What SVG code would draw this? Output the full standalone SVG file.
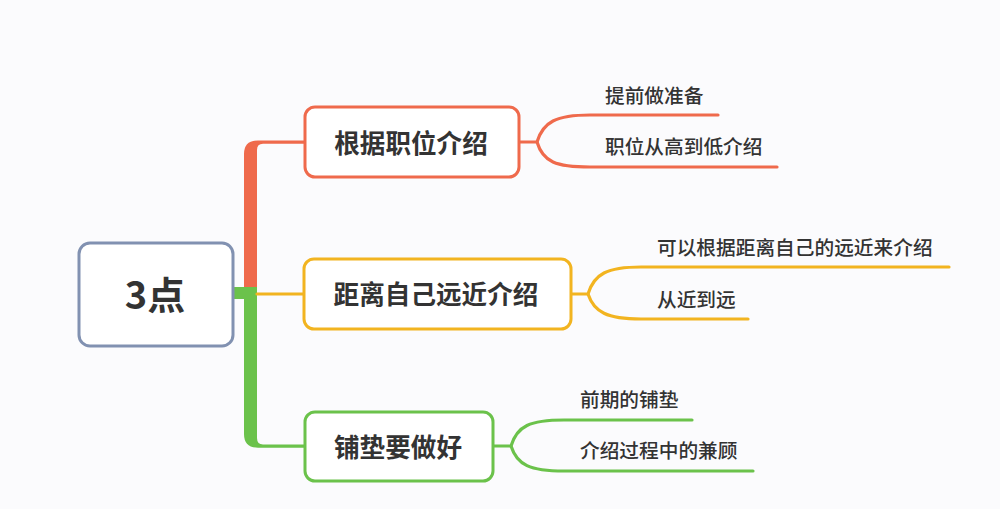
<svg xmlns="http://www.w3.org/2000/svg" width="1000" height="509" viewBox="0 0 1000 509">
<style>
.bg{fill:#fbfbfd}
.node{fill:#ffffff;stroke-width:3}
.t{font-family:"Noto Sans CJK SC","Noto Sans",sans-serif;fill:#333333;dominant-baseline:central}
.main{font-size:25.6px;font-weight:bold;text-anchor:middle}
.sub{font-size:19.7px;font-weight:500}
.br{fill:none;stroke-width:3.2;stroke-linecap:round}
.red{stroke:#ef6a4c}
.yel{stroke:#f2b420}
.grn{stroke:#6bc24b}
</style>
<rect class="bg" x="0" y="0" width="1000" height="509"/>
<g id="connectors">
<path d="M244,287 L244,154 Q244,140.5 258,140.5 L306,140.5 L306,143.7 L263,143.7 Q257,143.7 257,150 L257,287 Z" fill="#ef6a4c"/>
<path d="M232,287 L257,287 L257,438 Q257,444.5 263,444.5 L306,444.5 L306,447.7 L258,447.7 Q244,447.7 244,434 L244,299 L232,299 Z" fill="#6bc24b"/>
<line x1="257" y1="294" x2="306" y2="294" class="br yel" stroke-linecap="butt"/>
<path class="br red" d="M520,142 L537,142 C543,122 556,115 590,115 L718,115"/>
<path class="br red" d="M537,142 C543,162 556,167 590,167 L777,167"/>
<path class="br yel" d="M571,294 L588,294 C594,274 607,267 641,267 L949,267"/>
<path class="br yel" d="M588,294 C594,312 607,319 641,319 L748,319"/>
<path class="br grn" d="M493,446 L511,446 C517,426 530,420 564,420 L692,420"/>
<path class="br grn" d="M511,446 C517,465 530,471 564,471 L753,471"/>
</g>
<g id="root">
<rect class="node" x="79" y="243" width="154" height="103" rx="11" stroke="#8191b1"/>
<text class="t main" x="155" y="292" style="font-size:38px">3点</text>
</g>
<g id="n1">
<rect class="node red" x="305" y="107" width="214" height="70" rx="10"/>
<text class="t main" x="411" y="141">根据职位介绍</text>
</g>
<g id="n2">
<rect class="node yel" x="304" y="259" width="267" height="70" rx="10"/>
<text class="t main" x="436" y="292">距离自己远近介绍</text>
</g>
<g id="n3">
<rect class="node grn" x="305" y="412" width="188" height="69" rx="10"/>
<text class="t main" x="398" y="445">铺垫要做好</text>
</g>
<g id="n1a"><text class="t sub" x="605" y="94">提前做准备</text></g>
<g id="n1b"><text class="t sub" x="605" y="145">职位从高到低介绍</text></g>
<g id="n2a"><text class="t sub" x="657" y="246">可以根据距离自己的远近来介绍</text></g>
<g id="n2b"><text class="t sub" x="657" y="298">从近到远</text></g>
<g id="n3a"><text class="t sub" x="580" y="398">前期的铺垫</text></g>
<g id="n3b"><text class="t sub" x="580" y="449">介绍过程中的兼顾</text></g>
</svg>
